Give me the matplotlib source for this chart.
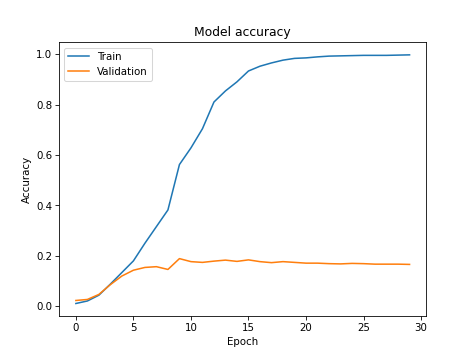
import numpy as np
from matplotlib import pyplot as plt

# historia de entrenamiento
epochs = np.arange(30)
train_acc = [0.011, 0.021, 0.044, 0.088, 0.134, 0.18, 0.25, 0.316, 0.382, 0.562,
             0.628, 0.704, 0.81, 0.854, 0.89, 0.933, 0.952, 0.965, 0.976, 0.983,
             0.985, 0.989, 0.992, 0.993, 0.994, 0.995, 0.995, 0.995, 0.996, 0.997]
val_acc = [0.023, 0.027, 0.047, 0.086, 0.12, 0.143, 0.154, 0.157, 0.146, 0.189,
           0.177, 0.174, 0.179, 0.183, 0.178, 0.184, 0.177, 0.173, 0.177, 0.174,
           0.171, 0.171, 0.169, 0.168, 0.17, 0.169, 0.167, 0.167, 0.167, 0.166]

plt.figure(figsize=(6.4, 4.8), dpi=74)
plt.plot(epochs, train_acc)
plt.plot(epochs, val_acc)
plt.title('Model accuracy')
plt.ylabel('Accuracy')
plt.xlabel('Epoch')
plt.legend(['Train', 'Validation'], loc='upper left')
plt.savefig('out.png', dpi=74)
